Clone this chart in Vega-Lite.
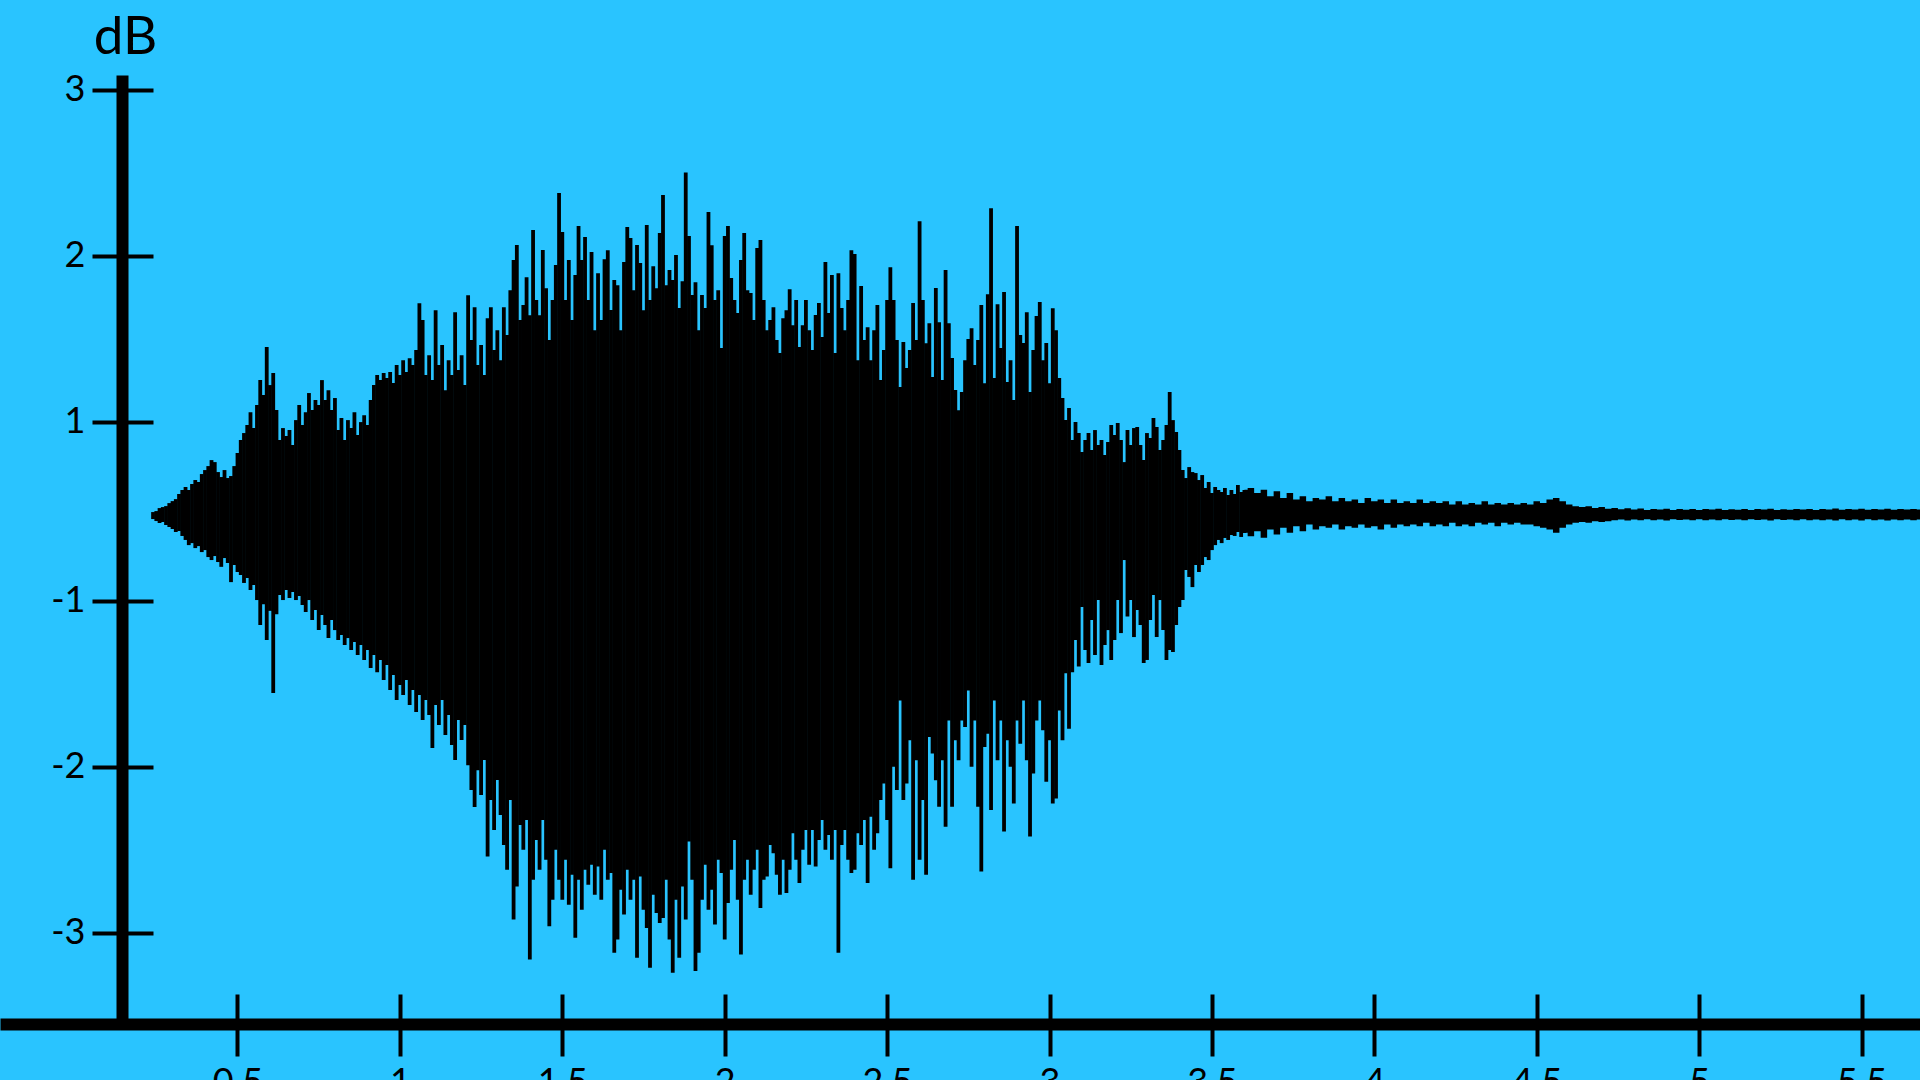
{
"$schema": "https://vega.github.io/schema/vega-lite/v6.json",
"width": 1920,
"height": 949,
"autosize": {"type": "none"},
"padding": {"left": 0, "right": 0, "top": 75, "bottom": 56},
"background": "#29C4FF",
"config": {"view": {"stroke": null}, "font": "Lato"},
"datasets": {
"loud": [
{"t":0.24,"h":-0.005,"l":-0.047},{"t":0.25,"h":0.001,"l":-0.059},{"t":0.26,"h":0.019,"l":-0.071},{"t":0.27,"h":0.025,"l":-0.065},{"t":0.28,"h":0.031,"l":-0.083},{"t":0.29,"h":0.049,"l":-0.095},{"t":0.30,"h":0.061,"l":-0.107},{"t":0.31,"h":0.073,"l":-0.125},{"t":0.32,"h":0.104,"l":-0.119},{"t":0.33,"h":0.128,"l":-0.149},
{"t":0.34,"h":0.146,"l":-0.173},{"t":0.35,"h":0.128,"l":-0.204},{"t":0.36,"h":0.164,"l":-0.192},{"t":0.37,"h":0.188,"l":-0.222},{"t":0.38,"h":0.176,"l":-0.21},{"t":0.39,"h":0.224,"l":-0.246},{"t":0.40,"h":0.248,"l":-0.234},{"t":0.41,"h":0.272,"l":-0.276},{"t":0.42,"h":0.308,"l":-0.294},{"t":0.43,"h":0.296,"l":-0.27},
{"t":0.44,"h":0.236,"l":-0.306},{"t":0.45,"h":0.206,"l":-0.335},{"t":0.46,"h":0.248,"l":-0.282},{"t":0.47,"h":0.2,"l":-0.312},{"t":0.48,"h":0.212,"l":-0.427},{"t":0.49,"h":0.272,"l":-0.324},{"t":0.50,"h":0.351,"l":-0.366},{"t":0.51,"h":0.429,"l":-0.384},{"t":0.52,"h":0.471,"l":-0.432},{"t":0.53,"h":0.519,"l":-0.402},
{"t":0.54,"h":0.597,"l":-0.475},{"t":0.55,"h":0.501,"l":-0.445},{"t":0.56,"h":0.64,"l":-0.535},{"t":0.57,"h":0.79,"l":-0.686},{"t":0.58,"h":0.7,"l":-0.56},{"t":0.59,"h":0.989,"l":-0.776},{"t":0.60,"h":0.76,"l":-0.6},{"t":0.61,"h":0.833,"l":-1.095},{"t":0.62,"h":0.61,"l":-0.62},{"t":0.63,"h":0.429,"l":-0.505},
{"t":0.64,"h":0.501,"l":-0.535},{"t":0.65,"h":0.453,"l":-0.475},{"t":0.66,"h":0.489,"l":-0.523},{"t":0.67,"h":0.399,"l":-0.487},{"t":0.68,"h":0.549,"l":-0.535},{"t":0.69,"h":0.64,"l":-0.511},{"t":0.70,"h":0.519,"l":-0.565},{"t":0.71,"h":0.597,"l":-0.607},{"t":0.72,"h":0.712,"l":-0.535},{"t":0.73,"h":0.61,"l":-0.655},
{"t":0.74,"h":0.67,"l":-0.595},{"t":0.75,"h":0.64,"l":-0.716},{"t":0.76,"h":0.79,"l":-0.625},{"t":0.77,"h":0.67,"l":-0.686},{"t":0.78,"h":0.729,"l":-0.764},{"t":0.79,"h":0.61,"l":-0.655},{"t":0.80,"h":0.682,"l":-0.716},{"t":0.81,"h":0.489,"l":-0.776},{"t":0.82,"h":0.561,"l":-0.746},{"t":0.83,"h":0.429,"l":-0.806},
{"t":0.84,"h":0.549,"l":-0.764},{"t":0.85,"h":0.501,"l":-0.836},{"t":0.86,"h":0.597,"l":-0.788},{"t":0.87,"h":0.459,"l":-0.866},{"t":0.88,"h":0.537,"l":-0.806},{"t":0.89,"h":0.579,"l":-0.896},{"t":0.90,"h":0.519,"l":-0.836},{"t":0.91,"h":0.67,"l":-0.945},{"t":0.92,"h":0.76,"l":-0.866},{"t":0.93,"h":0.82,"l":-0.97},
{"t":0.94,"h":0.79,"l":-0.896},{"t":0.95,"h":0.833,"l":-1.017},{"t":0.96,"h":0.803,"l":-0.926},{"t":0.97,"h":0.839,"l":-1.077},{"t":0.98,"h":0.772,"l":-0.986},{"t":0.99,"h":0.881,"l":-1.137},{"t":1.00,"h":0.82,"l":-1.047},{"t":1.01,"h":0.91,"l":-1.107},{"t":1.02,"h":0.839,"l":-1.017},{"t":1.03,"h":0.922,"l":-1.167},
{"t":1.04,"h":0.881,"l":-1.077},{"t":1.05,"h":0.971,"l":-1.21},{"t":1.06,"h":1.253,"l":-1.107},{"t":1.07,"h":1.152,"l":-1.258},{"t":1.08,"h":0.82,"l":-1.137},{"t":1.09,"h":0.94,"l":-1.228},{"t":1.10,"h":0.79,"l":-1.426},{"t":1.11,"h":1.211,"l":-1.167},{"t":1.12,"h":0.881,"l":-1.288},{"t":1.13,"h":1.001,"l":-1.137},
{"t":1.14,"h":0.729,"l":-1.348},{"t":1.15,"h":0.91,"l":-1.228},{"t":1.16,"h":0.82,"l":-1.408},{"t":1.17,"h":1.199,"l":-1.499},{"t":1.18,"h":0.851,"l":-1.258},{"t":1.19,"h":0.94,"l":-1.378},{"t":1.20,"h":0.76,"l":-1.288},{"t":1.21,"h":1.301,"l":-1.53},{"t":1.22,"h":1.031,"l":-1.68},{"t":1.23,"h":1.229,"l":-1.782},
{"t":1.24,"h":0.881,"l":-1.56},{"t":1.25,"h":1.001,"l":-1.71},{"t":1.26,"h":0.82,"l":-1.499},{"t":1.27,"h":1.163,"l":-2.08},{"t":1.28,"h":1.229,"l":-1.74},{"t":1.29,"h":0.971,"l":-1.92},{"t":1.30,"h":1.091,"l":-1.619},{"t":1.31,"h":0.91,"l":-1.83},{"t":1.32,"h":1.229,"l":-2.01},{"t":1.33,"h":1.061,"l":-2.16},
{"t":1.34,"h":1.332,"l":-1.74},{"t":1.35,"h":1.513,"l":-2.46},{"t":1.36,"h":1.604,"l":-2.26},{"t":1.37,"h":1.152,"l":-1.89},{"t":1.38,"h":1.242,"l":-2.04},{"t":1.39,"h":1.41,"l":-1.86},{"t":1.40,"h":1.181,"l":-2.7},{"t":1.41,"h":1.694,"l":-2.22},{"t":1.42,"h":1.272,"l":-1.98},{"t":1.43,"h":1.181,"l":-2.16},
{"t":1.44,"h":1.574,"l":-1.86},{"t":1.45,"h":1.343,"l":-2.1},{"t":1.46,"h":1.031,"l":-2.5},{"t":1.47,"h":1.272,"l":-2.34},{"t":1.48,"h":1.483,"l":-2.04},{"t":1.49,"h":1.917,"l":-2.22},{"t":1.50,"h":1.682,"l":-2.34},{"t":1.51,"h":1.272,"l":-2.1},{"t":1.52,"h":1.513,"l":-2.37},{"t":1.53,"h":1.152,"l":-2.19},
{"t":1.54,"h":1.423,"l":-2.57},{"t":1.55,"h":1.718,"l":-2.22},{"t":1.56,"h":1.513,"l":-2.4},{"t":1.57,"h":1.652,"l":-2.16},{"t":1.58,"h":1.272,"l":-2.25},{"t":1.59,"h":1.561,"l":-2.13},{"t":1.60,"h":1.091,"l":-2.31},{"t":1.61,"h":1.434,"l":-2.14},{"t":1.62,"h":1.152,"l":-2.34},{"t":1.63,"h":1.518,"l":-2.04},
{"t":1.64,"h":1.573,"l":-2.22},{"t":1.65,"h":1.212,"l":-2.18},{"t":1.66,"h":1.393,"l":-2.66},{"t":1.67,"h":1.362,"l":-2.58},{"t":1.68,"h":1.091,"l":-2.28},{"t":1.69,"h":1.501,"l":-2.43},{"t":1.70,"h":1.713,"l":-2.16},{"t":1.71,"h":1.646,"l":-2.34},{"t":1.72,"h":1.332,"l":-2.22},{"t":1.73,"h":1.604,"l":-2.69},
{"t":1.74,"h":1.495,"l":-2.2},{"t":1.75,"h":1.211,"l":-2.4},{"t":1.76,"h":1.724,"l":-2.51},{"t":1.77,"h":1.272,"l":-2.75},{"t":1.78,"h":1.476,"l":-2.31},{"t":1.79,"h":1.344,"l":-2.42},{"t":1.80,"h":1.676,"l":-2.48},{"t":1.81,"h":1.905,"l":-2.45},{"t":1.82,"h":1.362,"l":-2.22},{"t":1.83,"h":1.453,"l":-2.58},
{"t":1.84,"h":1.393,"l":-2.78},{"t":1.85,"h":1.543,"l":-2.34},{"t":1.86,"h":1.224,"l":-2.69},{"t":1.87,"h":1.386,"l":-2.26},{"t":1.88,"h":2.04,"l":-2.46},{"t":1.89,"h":1.658,"l":-1.99},{"t":1.90,"h":1.302,"l":-2.22},{"t":1.91,"h":1.38,"l":-2.77},{"t":1.92,"h":1.091,"l":-2.66},{"t":1.93,"h":1.302,"l":-2.34},
{"t":1.94,"h":1.224,"l":-2.13},{"t":1.95,"h":1.802,"l":-2.4},{"t":1.96,"h":1.603,"l":-2.28},{"t":1.97,"h":1.272,"l":-2.49},{"t":1.98,"h":1.332,"l":-2.1},{"t":1.99,"h":0.983,"l":-2.18},{"t":2.00,"h":1.658,"l":-2.58},{"t":2.01,"h":1.718,"l":-2.36},{"t":2.02,"h":1.405,"l":-2.16},{"t":2.03,"h":1.272,"l":-1.98},
{"t":2.04,"h":1.194,"l":-2.34},{"t":2.05,"h":1.513,"l":-2.67},{"t":2.06,"h":1.676,"l":-2.22},{"t":2.07,"h":1.332,"l":-2.1},{"t":2.08,"h":1.314,"l":-2.31},{"t":2.09,"h":1.152,"l":-2.16},{"t":2.10,"h":1.586,"l":-2.04},{"t":2.11,"h":1.634,"l":-2.39},{"t":2.12,"h":1.272,"l":-2.22},{"t":2.13,"h":1.091,"l":-2.2},
{"t":2.14,"h":1.152,"l":-2.01},{"t":2.15,"h":1.229,"l":-2.06},{"t":2.16,"h":1.031,"l":-2.19},{"t":2.17,"h":0.953,"l":-2.31},{"t":2.18,"h":1.163,"l":-2.1},{"t":2.19,"h":1.211,"l":-2.3},{"t":2.20,"h":1.338,"l":-2.16},{"t":2.21,"h":1.12,"l":-1.94},{"t":2.22,"h":1.272,"l":-2.1},{"t":2.23,"h":0.99,"l":-2.24},
{"t":2.24,"h":1.12,"l":-2.04},{"t":2.25,"h":1.272,"l":-1.92},{"t":2.26,"h":1.091,"l":-2.13},{"t":2.27,"h":0.971,"l":-1.92},{"t":2.28,"h":1.182,"l":-2.14},{"t":2.29,"h":1.254,"l":-1.98},{"t":2.30,"h":1.049,"l":-1.86},{"t":2.31,"h":1.501,"l":-2.04},{"t":2.32,"h":1.194,"l":-1.95},{"t":2.33,"h":1.423,"l":-2.1},
{"t":2.34,"h":0.953,"l":-1.92},{"t":2.35,"h":1.434,"l":-2.66},{"t":2.36,"h":1.224,"l":-2.01},{"t":2.37,"h":1.091,"l":-1.92},{"t":2.38,"h":1.272,"l":-2.1},{"t":2.39,"h":1.573,"l":-2.18},{"t":2.40,"h":1.549,"l":-2.16},{"t":2.41,"h":0.91,"l":-1.94},{"t":2.42,"h":1.357,"l":-2.01},{"t":2.43,"h":1.031,"l":-1.86},
{"t":2.44,"h":1.109,"l":-2.24},{"t":2.45,"h":0.91,"l":-1.84},{"t":2.46,"h":1.091,"l":-2.04},{"t":2.47,"h":1.242,"l":-1.94},{"t":2.48,"h":0.79,"l":-1.74},{"t":2.49,"h":0.971,"l":-1.64},{"t":2.50,"h":1.272,"l":-1.86},{"t":2.51,"h":1.47,"l":-2.15},{"t":2.52,"h":1.272,"l":-1.54},{"t":2.53,"h":1.031,"l":-1.68},
{"t":2.54,"h":0.748,"l":-1.14},{"t":2.55,"h":1.019,"l":-1.74},{"t":2.56,"h":0.863,"l":-1.64},{"t":2.57,"h":0.971,"l":-1.38},{"t":2.58,"h":1.254,"l":-2.22},{"t":2.59,"h":1.031,"l":-1.5},{"t":2.60,"h":1.747,"l":-2.1},{"t":2.61,"h":1.272,"l":-1.74},{"t":2.62,"h":1.012,"l":-2.19},{"t":2.63,"h":1.133,"l":-1.36},
{"t":2.64,"h":0.809,"l":-1.46},{"t":2.65,"h":1.345,"l":-1.62},{"t":2.66,"h":1.139,"l":-1.78},{"t":2.67,"h":0.79,"l":-1.5},{"t":2.68,"h":1.453,"l":-1.9},{"t":2.69,"h":1.133,"l":-1.26},{"t":2.70,"h":0.923,"l":-1.78},{"t":2.71,"h":0.73,"l":-1.38},{"t":2.72,"h":0.609,"l":-1.5},{"t":2.73,"h":0.718,"l":-1.26},
{"t":2.74,"h":0.91,"l":-1.3},{"t":2.75,"h":1.037,"l":-1.08},{"t":2.76,"h":1.103,"l":-1.54},{"t":2.77,"h":0.881,"l":-1.26},{"t":2.78,"h":1.031,"l":-1.78},{"t":2.79,"h":1.242,"l":-2.17},{"t":2.80,"h":0.771,"l":-1.42},{"t":2.81,"h":1.307,"l":-1.34},{"t":2.82,"h":1.826,"l":-1.8},{"t":2.83,"h":0.802,"l":-1.14},
{"t":2.84,"h":1.247,"l":-1.5},{"t":2.85,"h":0.983,"l":-1.26},{"t":2.86,"h":1.32,"l":-1.93},{"t":2.87,"h":0.778,"l":-1.38},{"t":2.88,"h":0.91,"l":-1.54},{"t":2.89,"h":0.67,"l":-1.76},{"t":2.90,"h":1.718,"l":-1.26},{"t":2.91,"h":1.061,"l":-1.4},{"t":2.92,"h":1.013,"l":-1.14},{"t":2.93,"h":1.199,"l":-1.5},
{"t":2.94,"h":0.718,"l":-1.96},{"t":2.95,"h":0.971,"l":-1.58},{"t":2.96,"h":1.176,"l":-1.26},{"t":2.97,"h":1.26,"l":-1.14},{"t":2.98,"h":0.91,"l":-1.32},{"t":2.99,"h":1.013,"l":-1.63},{"t":3.00,"h":0.771,"l":-1.38},{"t":3.01,"h":1.223,"l":-1.76},{"t":3.02,"h":1.091,"l":-1.73},{"t":3.03,"h":0.802,"l":-1.2},
{"t":3.04,"h":0.682,"l":-1.38},{"t":3.05,"h":0.549,"l":-0.976},{"t":3.06,"h":0.622,"l":-1.31},{"t":3.07,"h":0.429,"l":-0.97},{"t":3.08,"h":0.537,"l":-0.776},{"t":3.09,"h":0.471,"l":-0.936},{"t":3.10,"h":0.357,"l":-0.577},{"t":3.11,"h":0.429,"l":-0.836},{"t":3.12,"h":0.471,"l":-0.914},{"t":3.13,"h":0.369,"l":-0.655},
{"t":3.14,"h":0.489,"l":-0.866},{"t":3.15,"h":0.399,"l":-0.535},{"t":3.16,"h":0.429,"l":-0.926},{"t":3.17,"h":0.339,"l":-0.806},{"t":3.18,"h":0.417,"l":-0.716},{"t":3.19,"h":0.519,"l":-0.896},{"t":3.20,"h":0.459,"l":-0.776},{"t":3.21,"h":0.531,"l":-0.535},{"t":3.22,"h":0.429,"l":-0.734},{"t":3.23,"h":0.296,"l":-0.294},
{"t":3.24,"h":0.489,"l":-0.634},{"t":3.25,"h":0.399,"l":-0.535},{"t":3.26,"h":0.501,"l":-0.758},{"t":3.27,"h":0.507,"l":-0.595},{"t":3.28,"h":0.399,"l":-0.685},{"t":3.29,"h":0.308,"l":-0.914},{"t":3.30,"h":0.471,"l":-0.896},{"t":3.31,"h":0.441,"l":-0.655},{"t":3.32,"h":0.561,"l":-0.505},{"t":3.33,"h":0.507,"l":-0.758},
{"t":3.34,"h":0.369,"l":-0.535},{"t":3.35,"h":0.429,"l":-0.716},{"t":3.36,"h":0.519,"l":-0.896},{"t":3.37,"h":0.718,"l":-0.836},{"t":3.38,"h":0.549,"l":-0.848},{"t":3.39,"h":0.477,"l":-0.685},{"t":3.40,"h":0.369,"l":-0.577},{"t":3.41,"h":0.248,"l":-0.535},{"t":3.42,"h":0.2,"l":-0.354},{"t":3.43,"h":0.266,"l":-0.396},
{"t":3.44,"h":0.236,"l":-0.457},{"t":3.45,"h":0.23,"l":-0.324},{"t":3.46,"h":0.188,"l":-0.366},{"t":3.47,"h":0.218,"l":-0.324},{"t":3.48,"h":0.14,"l":-0.276},{"t":3.49,"h":0.176,"l":-0.294},{"t":3.50,"h":0.11,"l":-0.234},{"t":3.51,"h":0.146,"l":-0.204},{"t":3.52,"h":0.128,"l":-0.173},{"t":3.53,"h":0.116,"l":-0.192},
{"t":3.54,"h":0.14,"l":-0.161},{"t":3.55,"h":0.098,"l":-0.173},{"t":3.56,"h":0.128,"l":-0.143},{"t":3.57,"h":0.104,"l":-0.149},{"t":3.58,"h":0.158,"l":-0.125},{"t":3.59,"h":0.116,"l":-0.155},{"t":3.60,"h":0.128,"l":-0.131}
],
"tail": [
{"t":3.60,"h":0.13,"l":-0.13},{"t":3.62,"h":0.14,"l":-0.15},{"t":3.64,"h":0.11,"l":-0.12},{"t":3.66,"h":0.13,"l":-0.16},{"t":3.68,"h":0.09,"l":-0.11},{"t":3.70,"h":0.12,"l":-0.14},{"t":3.72,"h":0.08,"l":-0.10},{"t":3.74,"h":0.11,"l":-0.13},{"t":3.76,"h":0.07,"l":-0.09},{"t":3.78,"h":0.09,"l":-0.12},
{"t":3.80,"h":0.06,"l":-0.08},{"t":3.82,"h":0.08,"l":-0.11},{"t":3.84,"h":0.07,"l":-0.09},{"t":3.86,"h":0.09,"l":-0.10},{"t":3.88,"h":0.06,"l":-0.08},{"t":3.90,"h":0.08,"l":-0.11},{"t":3.92,"h":0.06,"l":-0.09},{"t":3.94,"h":0.07,"l":-0.10},{"t":3.96,"h":0.05,"l":-0.08},{"t":3.98,"h":0.08,"l":-0.10},
{"t":4.00,"h":0.06,"l":-0.09},{"t":4.02,"h":0.07,"l":-0.11},{"t":4.04,"h":0.05,"l":-0.08},{"t":4.06,"h":0.07,"l":-0.10},{"t":4.08,"h":0.05,"l":-0.08},{"t":4.10,"h":0.06,"l":-0.09},{"t":4.12,"h":0.05,"l":-0.08},{"t":4.14,"h":0.07,"l":-0.09},{"t":4.16,"h":0.05,"l":-0.07},{"t":4.18,"h":0.06,"l":-0.09},
{"t":4.20,"h":0.05,"l":-0.08},{"t":4.22,"h":0.06,"l":-0.09},{"t":4.24,"h":0.04,"l":-0.07},{"t":4.26,"h":0.06,"l":-0.09},{"t":4.28,"h":0.04,"l":-0.08},{"t":4.30,"h":0.05,"l":-0.09},{"t":4.32,"h":0.04,"l":-0.07},{"t":4.34,"h":0.06,"l":-0.08},{"t":4.36,"h":0.04,"l":-0.07},{"t":4.38,"h":0.05,"l":-0.09},
{"t":4.40,"h":0.04,"l":-0.07},{"t":4.42,"h":0.05,"l":-0.08},{"t":4.44,"h":0.04,"l":-0.07},{"t":4.46,"h":0.05,"l":-0.08},{"t":4.48,"h":0.04,"l":-0.08},{"t":4.50,"h":0.06,"l":-0.09},{"t":4.52,"h":0.05,"l":-0.10},{"t":4.54,"h":0.07,"l":-0.11},{"t":4.56,"h":0.08,"l":-0.13},{"t":4.58,"h":0.06,"l":-0.10},
{"t":4.60,"h":0.04,"l":-0.08},{"t":4.62,"h":0.03,"l":-0.07},{"t":4.64,"h":0.025,"l":-0.065},{"t":4.66,"h":0.03,"l":-0.07},{"t":4.68,"h":0.02,"l":-0.06},{"t":4.70,"h":0.025,"l":-0.065},{"t":4.72,"h":0.015,"l":-0.06},{"t":4.74,"h":0.02,"l":-0.055},{"t":4.76,"h":0.012,"l":-0.05},{"t":4.78,"h":0.018,"l":-0.056},
{"t":4.80,"h":0.01,"l":-0.05},{"t":4.82,"h":0.016,"l":-0.055},{"t":4.84,"h":0.008,"l":-0.048},{"t":4.86,"h":0.014,"l":-0.054},{"t":4.88,"h":0.01,"l":-0.05},{"t":4.90,"h":0.015,"l":-0.056},{"t":4.92,"h":0.008,"l":-0.048},{"t":4.94,"h":0.013,"l":-0.053},{"t":4.96,"h":0.009,"l":-0.05},{"t":4.98,"h":0.014,"l":-0.055},
{"t":5.00,"h":0.008,"l":-0.048},{"t":5.02,"h":0.013,"l":-0.054},{"t":5.04,"h":0.01,"l":-0.05},{"t":5.06,"h":0.015,"l":-0.055},{"t":5.08,"h":0.008,"l":-0.049},{"t":5.10,"h":0.012,"l":-0.053},{"t":5.12,"h":0.009,"l":-0.05},{"t":5.14,"h":0.014,"l":-0.055},{"t":5.16,"h":0.008,"l":-0.048},{"t":5.18,"h":0.013,"l":-0.053},
{"t":5.20,"h":0.01,"l":-0.05},{"t":5.22,"h":0.015,"l":-0.056},{"t":5.24,"h":0.008,"l":-0.049},{"t":5.26,"h":0.012,"l":-0.053},{"t":5.28,"h":0.009,"l":-0.05},{"t":5.30,"h":0.014,"l":-0.055},{"t":5.32,"h":0.01,"l":-0.049},{"t":5.34,"h":0.013,"l":-0.054},{"t":5.36,"h":0.008,"l":-0.05},{"t":5.38,"h":0.014,"l":-0.055},
{"t":5.40,"h":0.01,"l":-0.05},{"t":5.42,"h":0.016,"l":-0.056},{"t":5.44,"h":0.009,"l":-0.049},{"t":5.46,"h":0.013,"l":-0.054},{"t":5.48,"h":0.01,"l":-0.05},{"t":5.50,"h":0.015,"l":-0.056},{"t":5.52,"h":0.009,"l":-0.049},{"t":5.54,"h":0.014,"l":-0.055},{"t":5.56,"h":0.01,"l":-0.05},{"t":5.58,"h":0.015,"l":-0.056},
{"t":5.60,"h":0.009,"l":-0.05},{"t":5.62,"h":0.014,"l":-0.055},{"t":5.64,"h":0.01,"l":-0.05},{"t":5.66,"h":0.013,"l":-0.054},{"t":5.68,"h":0.01,"l":-0.05}
]
},
"layer": [
{
"data": {"name": "loud"},
"mark": {"type": "rule", "color": "#000000", "strokeWidth": 3.8},
"encoding": {
"x": {"field": "t", "type": "quantitative",
"scale": {"domain": [-0.2312, 5.68], "nice": false, "zero": false},
"axis": {"orient": "bottom", "values": [0.5,1,1.5,2,2.5,3,3.5,4,4.5,5,5.5], "labelExpr": "'' + datum.value", "title": null, "grid": false,
"domainColor": "#000000", "domainWidth": 12, "tickColor": "#000000", "tickWidth": 4, "tickSize": 32,
"labelColor": "#000000", "labelFontSize": 36, "labelFont": "Lato", "labelPadding": 9, "labelFlush": false, "labelOverlap": false, "labelBound": false}},
"y": {"field": "h", "type": "quantitative",
"scale": {"domain": [-3.089, 2.628], "nice": false, "zero": false},
"axis": {"orient": "left", "offset": -122, "values": [-2.54,-1.54,-0.54,0.54,1.54,2.54],
"labelExpr": "(datum.value < 0 ? '-' : '') + round(abs(datum.value) + 0.46)",
"title": "dB", "titleAngle": 0, "titleX": 3, "titleY": -22, "titleAlign": "center", "titleBaseline": "alphabetic",
"titleFontSize": 53, "titleFontWeight": "normal", "titleFont": "Lato", "titleColor": "#000000",
"grid": false, "domainColor": "#000000", "domainWidth": 12, "tickColor": "#000000", "tickWidth": 4, "tickSize": 30,
"labelColor": "#000000", "labelFontSize": 36, "labelFont": "Lato", "labelPadding": 7, "labelFlush": false, "labelOverlap": false, "labelBound": false}},
"y2": {"field": "l"}
}
},
{
"data": {"name": "tail"},
"mark": {"type": "area", "color": "#000000", "clip": true, "interpolate": "step"},
"encoding": {
"x": {"field": "t", "type": "quantitative",
"scale": {"domain": [-0.2312, 5.68], "nice": false, "zero": false},
"axis": {"orient": "bottom", "values": [0.5,1,1.5,2,2.5,3,3.5,4,4.5,5,5.5], "labels": false, "domain": false, "title": null, "grid": false,
"tickColor": "#000000", "tickWidth": 4, "tickSize": -30}},
"y": {"field": "h", "type": "quantitative",
"scale": {"domain": [-3.089, 2.628], "nice": false, "zero": false},
"axis": {"orient": "left", "offset": -122, "values": [-2.54,-1.54,-0.54,0.54,1.54,2.54], "labels": false, "domain": false, "title": null, "grid": false,
"tickColor": "#000000", "tickWidth": 4, "tickSize": -31}},
"y2": {"field": "l"}
}
}
],
"resolve": {"axis": {"x": "independent", "y": "independent"}}
}
